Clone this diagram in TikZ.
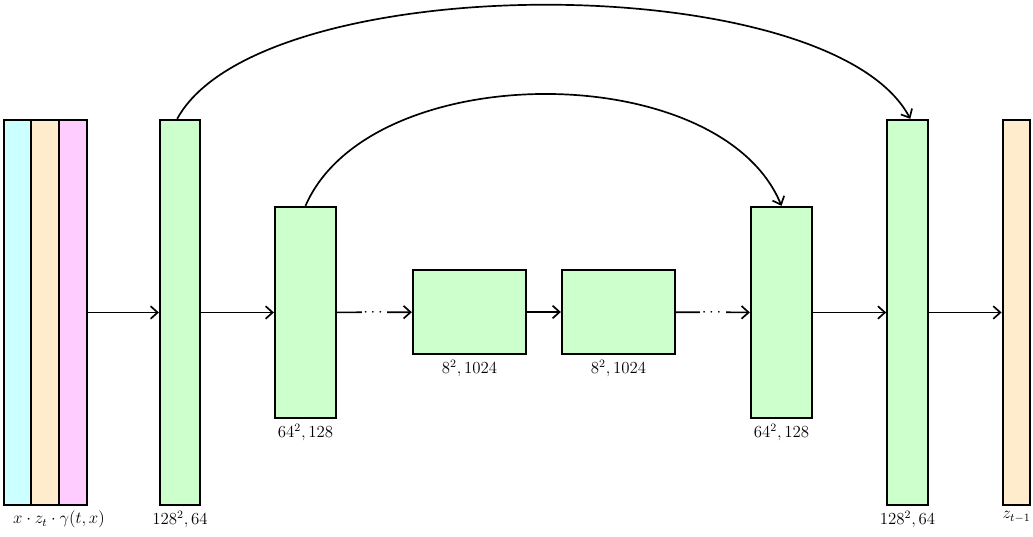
\documentclass[tikz,border=0pt]{standalone}
\usepackage{amsmath}
\usetikzlibrary{arrows.meta}
\definecolor{blockgreen}{RGB}{204,255,204}
\definecolor{inputcyan}{RGB}{204,255,255}
\definecolor{inputorange}{RGB}{255,236,204}
\definecolor{inputpink}{RGB}{255,204,255}
\begin{document}
\begin{tikzpicture}[x=0.025cm,y=-0.025cm,line width=1.2pt,>={Straight Barb[length=5pt,width=9pt]}]

%
% Styles
%
\tikzstyle{layer} = [rectangle,draw=black,line width=1.6pt,fill=blockgreen,inner sep=0pt]
\tikzstyle{strip} = [rectangle,draw=black,line width=1.6pt,inner sep=0pt,minimum width=0.69cm,minimum height=9.625cm]
\tikzstyle{size} = [below,inner sep=3pt,font=\large]
\tikzstyle{flow} = [->,line width=1.2pt]

\useasboundingbox (0,0) rectangle (1033,537);

\node[strip,fill=inputcyan]   (xin) at ( 17.5,312.5) {};
\node[strip,fill=inputorange] (zin) at ( 45,312.5) {};
\node[strip,fill=inputpink]   (gin) at ( 73,312.5) {};
\node[layer,minimum width=1cm,minimum height=9.625cm]      (d1) at (180,312.5) {};
\node[layer,minimum width=1.525cm,minimum height=5.275cm]  (d2) at (305.5,312.5) {};
\node[layer,minimum width=2.825cm,minimum height=2.1cm]    (m1) at (469.5,312) {};
\node[layer,minimum width=2.825cm,minimum height=2.1cm]    (m2) at (618.5,312) {};
\node[layer,minimum width=1.525cm,minimum height=5.275cm]  (u2) at (781.5,312.5) {};
\node[layer,minimum width=1.01cm,minimum height=9.625cm]   (u1) at (907.5,312.5) {};
\node[strip,fill=inputorange] (out) at (1016.5,312.5) {};

\node[size] at ([xshift=0.35cm]zin.south) {$x\cdot z_t\cdot\gamma(t,x)$};
\node[size] at (d1.south) {$128^2,64$};
\node[size] at (d2.south) {$64^2,128$};
\node[size] at (m1.south) {$8^2,1024$};
\node[size] at (m2.south) {$8^2,1024$};
\node[size] at (u2.south) {$64^2,128$};
\node[size] at (u1.south) {$128^2,64$};
\node[size] at (out.south) {$z_{t-1}$};

\draw[flow] (gin) -- (d1);
\draw[flow] (d1) -- (d2);
\draw[flow] (d2) -- node[fill=white,inner sep=1pt,font=\large] {$\cdots$} (m1);
\draw[flow] (m1) -- (m2);
\draw[flow] (m2) -- node[fill=white,inner sep=1pt,font=\large] {$\cdots$} (u2);
\draw[flow] (u2) -- (u1);
\draw[flow] (u1) -- (out);
\draw[flow] ([xshift=-0.07cm]d1.north) .. controls (260,-33) and (830,-33) .. ([xshift=0.07cm]u1.north);
\draw[flow] (d2.north) .. controls (370,57) and (720,57) .. (u2.north);

\end{tikzpicture}
\end{document}
